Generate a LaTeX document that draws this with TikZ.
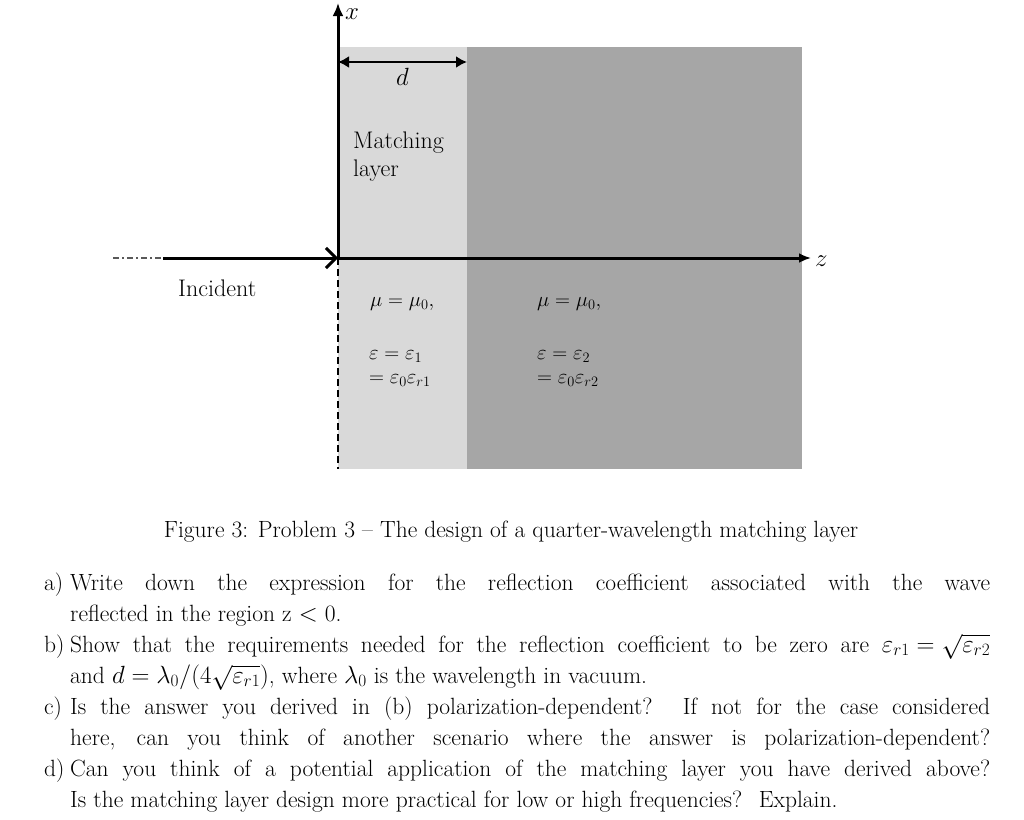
\documentclass[tikz,border=0pt]{standalone}
\usepackage{amsmath}
\usetikzlibrary{arrows.meta}
\definecolor{lightlayer}{HTML}{D9D9D9}
\definecolor{darklayer}{HTML}{A6A6A6}
\tikzset{
  axis/.style={line width=3pt},
  lbl/.style={inner sep=0pt, anchor=base west, font=\fontsize{24}{28}\selectfont},
  mlbl/.style={inner sep=0pt, anchor=base west, font=\fontsize{22.5}{26}\selectfont},
  qline/.style={inner sep=0pt, anchor=base west, font=\fontsize{23.5}{28}\selectfont},
}
\newcommand{\jline}[1]{\parbox[b]{920pt}{\parfillskip=0pt\parindent=0pt #1\par}}
\begin{document}
\begin{tikzpicture}[x=1pt,y=-1pt]
\useasboundingbox (0,0) rectangle (1024,819);
% layers
\fill[lightlayer] (338,47) rectangle (467,469);
\fill[darklayer] (467,47) rectangle (802,469);
% coordinates
\coordinate (O) at (338,258);
\coordinate (xtop) at (338,3);
\coordinate (inc0) at (113,258);
\coordinate (inc1) at (163,258);
\coordinate (zend) at (811,258);
\coordinate (dash1) at (338,469);
\coordinate (dL) at (338,62);
\coordinate (dR) at (467,62);
% axes
\draw[axis, -{Latex[length=13pt,width=11pt]}] (O) -- (xtop);
\draw[line width=1.3pt, gray!70!black, dash pattern=on 6pt off 3pt on 2pt off 3pt] (inc0) -- (inc1);
\draw[axis, -{Straight Barb[length=10pt,width=20pt,line width=3pt]}] (inc1) -- (O);
\draw[axis, -{Latex[length=12pt,width=10pt]}] (O) -- (zend);
\draw[line width=1.5pt, dash pattern=on 7pt off 4pt] (O) -- (dash1);
\draw[line width=2.5pt, {Latex[length=11pt,width=12pt]}-{Latex[length=11pt,width=12pt]}] (dL) -- (dR);
% labels
\node[lbl] (xl) at (345,19) {$x$};
\node[lbl] (zl) at (815,266) {$z$};
\node[lbl] (dl) at (396,85) {$d$};
\node[lbl] (ml1) at (353,148) {Matching};
\node[lbl] (ml2) at (353,176) {layer};
\node[lbl] (incl) at (178,296) {Incident};
\node[mlbl] (mu1) at (370,306) {$\mu=\mu_0,$};
\node[mlbl] (eps1a) at (369,359) {$\varepsilon=\varepsilon_1$};
\node[mlbl] (eps1b) at (369,383) {$=\varepsilon_0\varepsilon_{r1}$};
\node[mlbl] (mu2) at (537,306) {$\mu=\mu_0,$};
\node[mlbl] (eps2a) at (537,359) {$\varepsilon=\varepsilon_2$};
\node[mlbl] (eps2b) at (537,383) {$=\varepsilon_0\varepsilon_{r2}$};
% caption
\node[inner sep=0pt, anchor=base, font=\fontsize{23.5}{28}\selectfont] (cap) at (511,537) {Figure 3: Problem 3 -- The design of a quarter-wavelength matching layer};
% questions
\node[qline] (qa) at (44,590) {a)};
\node[qline] (qa1) at (70,590) {\jline{Write down the expression for the reflection coefficient associated with the wave}};
\node[qline] (qa2) at (70,621) {reflected in the region z $<$ 0.};
\node[qline] (qb) at (44,652) {b)};
\node[qline] (qb1) at (70,652) {\jline{Show that the requirements needed for the reflection coefficient to be zero are \mbox{$\varepsilon_{r1}=\sqrt{\varepsilon_{r2}}$}}};
\node[qline] (qb2) at (70,683) {and \mbox{$d=\lambda_0/(4\sqrt{\varepsilon_{r1}})$}, where $\lambda_0$ is the wavelength in vacuum.};
\node[qline] (qc) at (44,714) {c)};
\node[qline] (qc1) at (70,714) {\jline{Is the answer you derived in (b) polarization-dependent? If not for the case considered}};
\node[qline] (qc2) at (70,745) {\jline{here, can you think of another scenario where the answer is polarization-dependent?}};
\node[qline] (qd) at (44,776) {d)};
\node[qline] (qd1) at (70,776) {\jline{Can you think of a potential application of the matching layer you have derived above?}};
\node[qline] (qd2) at (70,807) {Is the matching layer design more practical for low or high frequencies? \ Explain.};
\end{tikzpicture}
\end{document}
